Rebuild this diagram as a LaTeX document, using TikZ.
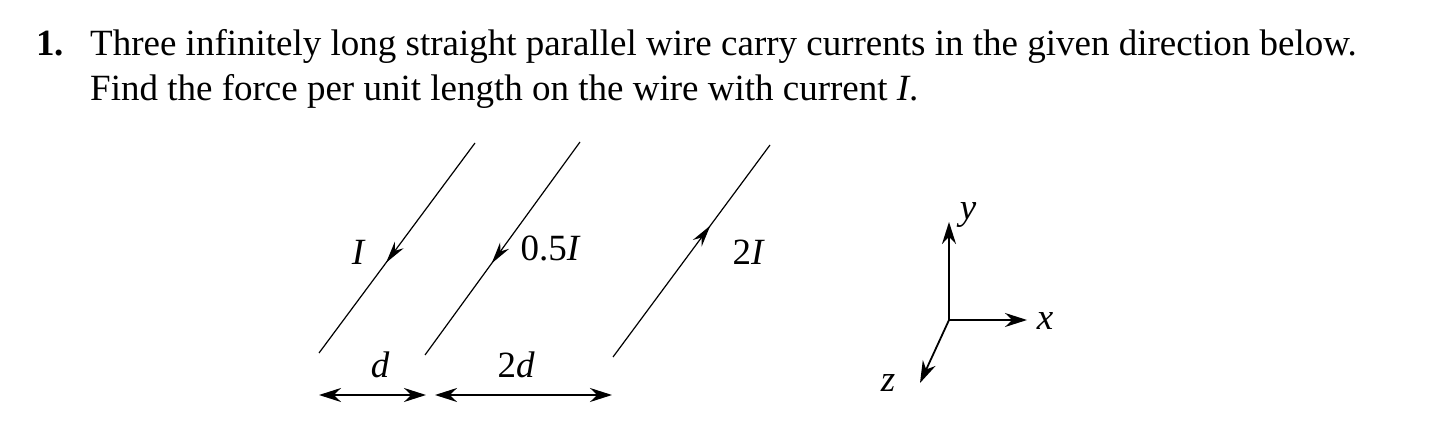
\documentclass[tikz,border=0pt]{standalone}
\usepackage{fontspec}
\setmainfont{Liberation Serif}
\usetikzlibrary{arrows.meta,decorations.markings}
\begin{document}
\begin{tikzpicture}[x=1pt,y=1pt,
  wire/.style={line width=1.2pt},
  midarrow/.style={postaction={decorate},decoration={markings,
    mark=at position #1 with {\arrow{Stealth[length=22pt,width=11pt]}}}},
  dim/.style={line width=1.8pt,{Stealth[length=22pt,width=14pt]}-{Stealth[length=22pt,width=14pt]}},
  ax/.style={line width=1.8pt,-{Stealth[length=22pt,width=14pt]}},
  lbl/.style={font=\fontsize{37}{40}\selectfont\itshape,inner sep=0pt},
  txt/.style={font=\fontsize{37}{40}\selectfont,inner sep=0pt,anchor=base west}]
\useasboundingbox (0,0) rectangle (1434,433);
% text
\node[txt] (n1) at (36,377) {\bfseries 1.};
\node[txt] (l1) at (90,377) {Three infinitely long straight parallel wire carry currents in the given direction below.};
\node[txt] (l2) at (90,332) {Find the force per unit length on the wire with current \textit{I}.};
% wires
\coordinate (a1) at (475,290); \coordinate (b1) at (319,80);
\coordinate (a2) at (580,291); \coordinate (b2) at (425,78);
\coordinate (a3) at (613,76); \coordinate (b3) at (770,288);
\draw[wire,midarrow=0.57] (a1) -- (b1);
\draw[wire,midarrow=0.57] (a2) -- (b2);
\draw[wire,midarrow=0.62] (a3) -- (b3);
\node[lbl] (I1) at (358,181) {I};
\node[lbl] (I2) at (550,185) {\upshape 0.5\itshape I};
\node[lbl] (I3) at (748,181) {\upshape 2\itshape I};
% dimensions
\coordinate (d1) at (319,38); \coordinate (d2) at (426,38);
\coordinate (d3) at (435,38); \coordinate (d4) at (612,38);
\draw[dim] (d1) -- (d2);
\draw[dim] (d3) -- (d4);
\node[lbl] (dl) at (380,68) {d};
\node[lbl] (dl2) at (516,68) {\upshape 2\itshape d};
% axes
\coordinate (o) at (949,113);
\coordinate (yy) at (949,211); \coordinate (xx) at (1027,113); \coordinate (zz) at (920,50);
\draw[ax] (o) -- (yy);
\draw[ax] (o) -- (xx);
\draw[ax] (o) -- (zz);
\node[lbl] (yl) at (968,218) {y};
\node[lbl] (xl) at (1045,112) {x};
\node[lbl] (zl) at (888,50) {z};
\end{tikzpicture}
\end{document}
